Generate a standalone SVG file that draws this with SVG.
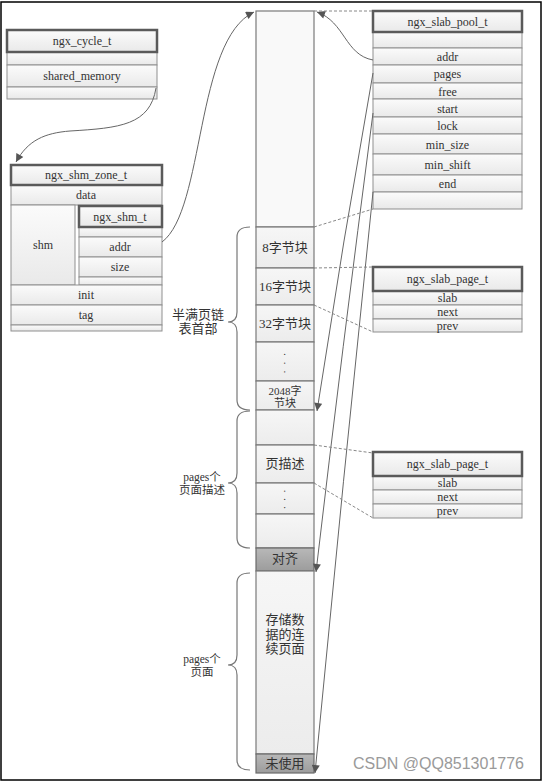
<svg xmlns="http://www.w3.org/2000/svg" width="543" height="783" viewBox="0 0 543 783">
<defs>
<linearGradient id="g" x1="0" y1="0" x2="0" y2="1"><stop offset="0" stop-color="#fbfbfb"/><stop offset="1" stop-color="#e9e9e9"/></linearGradient>
<linearGradient id="gd" x1="0" y1="0" x2="0" y2="1"><stop offset="0" stop-color="#b8b8b8"/><stop offset="1" stop-color="#9c9c9c"/></linearGradient>
<linearGradient id="gc" x1="0" y1="0" x2="0" y2="1"><stop offset="0" stop-color="#f6f6f6"/><stop offset="1" stop-color="#ececec"/></linearGradient>
<marker id="ar" viewBox="0 0 10 10" refX="10" refY="5" markerWidth="9" markerHeight="8" markerUnits="userSpaceOnUse" orient="auto"><path d="M0,0 L10,5 L0,10 z" fill="#555"/></marker>
<style>
.row{fill:url(#g);stroke:#8f8f8f;stroke-width:1}
.hdr{fill:url(#g);stroke:#5a5a5a;stroke-width:2.5}
.col{fill:url(#gc);stroke:#7a7a7a;stroke-width:1.2}
.dk{fill:url(#gd);stroke:#6a6a6a;stroke-width:1.2}
.t{font-family:"Liberation Serif",serif;font-size:12px;fill:#333;text-anchor:middle}
.c{font-family:"Liberation Serif","Noto Sans CJK SC",serif;font-size:13px;fill:#333;text-anchor:middle}
.s{font-family:"Liberation Serif","Noto Sans CJK SC",serif;font-size:11.5px;fill:#333;text-anchor:middle}
.d{font-family:"Liberation Serif",serif;font-size:11px;fill:#333;text-anchor:middle;letter-spacing:6px}
.dash{stroke:#888;stroke-width:1;stroke-dasharray:3,2;fill:none}
.conn{stroke:#666;stroke-width:1;fill:none}
.brace{stroke:#777;stroke-width:1.2;fill:none}
</style>
</defs>
<rect x="0" y="0" width="543" height="783" fill="#fff"/>
<rect x="1" y="2" width="540" height="778" fill="#fff" stroke="#000" stroke-width="1.5"/>

<g id="ngx_cycle_t">
<rect class="row" x="7" y="52" width="150" height="13"/>
<rect class="row" x="7" y="65" width="150" height="22"/>
<rect class="row" x="7" y="87" width="150" height="12"/>
<rect class="hdr" x="7" y="30" width="150" height="22"/>
<text class="t" x="82" y="45">ngx_cycle_t</text>
<text class="t" x="82" y="80">shared_memory</text>
</g>

<g id="ngx_shm_zone_t">
<rect class="row" x="11" y="185" width="151" height="20"/>
<rect class="row" x="11" y="205" width="64" height="80"/>
<rect class="row" x="79" y="227" width="83" height="10"/>
<rect class="row" x="79" y="237" width="83" height="20"/>
<rect class="row" x="79" y="257" width="83" height="20"/>
<rect class="row" x="79" y="277" width="83" height="8"/>
<rect class="row" x="11" y="285" width="151" height="20"/>
<rect class="row" x="11" y="305" width="151" height="20"/>
<rect class="row" x="11" y="325" width="151" height="6"/>
<rect class="hdr" x="11" y="165" width="151" height="20"/>
<rect class="hdr" x="79" y="206" width="83" height="21"/>
<text class="t" x="86" y="179">ngx_shm_zone_t</text>
<text class="t" x="86" y="199">data</text>
<text class="t" x="43" y="249">shm</text>
<text class="t" x="120" y="220.500">ngx_shm_t</text>
<text class="t" x="120" y="251">addr</text>
<text class="t" x="120" y="271">size</text>
<text class="t" x="86" y="299">init</text>
<text class="t" x="86" y="319">tag</text>
</g>

<g id="memory">
<rect class="col" x="256" y="11" width="58" height="216" style="fill:#f9f9f9"/>
<rect class="col" x="256" y="227" width="58" height="41"/>
<rect class="col" x="256" y="268" width="58" height="37"/>
<rect class="col" x="256" y="305" width="58" height="37"/>
<rect class="col" x="256" y="342" width="58" height="39"/>
<rect class="col" x="256" y="381" width="58" height="29"/>
<rect class="col" x="256" y="410" width="58" height="35"/>
<rect class="col" x="256" y="445" width="58" height="38"/>
<rect class="col" x="256" y="483" width="58" height="31"/>
<rect class="col" x="256" y="514" width="58" height="34"/>
<rect class="dk" x="256" y="548" width="58" height="23"/>
<rect class="col" x="256" y="571" width="58" height="183"/>
<rect class="dk" x="256" y="754" width="58" height="19"/>
<text class="c" x="285" y="252">8字节块</text>
<text class="c" x="285" y="291">16字节块</text>
<text class="c" x="285" y="328">32字节块</text>
<text class="d" x="0" y="0" transform="translate(283.500,366) rotate(90)">...</text>
<text class="c" x="285" y="394.500" style="font-size:11px">2048字<tspan x="285" dy="12.500">节块</tspan></text>
<text class="c" x="285" y="468">页描述</text>
<text class="d" x="0" y="0" transform="translate(283.500,502) rotate(90)" style="letter-spacing:5.500px">...</text>
<text class="c" x="285" y="563">对齐</text>
<text class="c" x="285" y="624">存储数<tspan x="285" dy="14.500">据的连</tspan><tspan x="285" dy="14.500">续页面</tspan></text>
<text class="c" x="285" y="768">未使用</text>
</g>

<g id="braces">
<path class="brace" d="M250,227 Q237,227 237,237 L237,312 Q237,322 228,322 Q237,322 237,332 L237,400 Q237,410 250,410"/>
<path class="brace" d="M250,411 Q237,411 237,421 L237,473 Q237,483 228,483 Q237,483 237,493 L237,538 Q237,548 250,548"/>
<path class="brace" d="M250,573 Q237,573 237,583 L237,655 Q237,665 228,665 Q237,665 237,675 L237,760 Q237,770 250,770"/>
<text class="c" x="198" y="319">半满页链<tspan x="198" dy="14">表首部</tspan></text>
<text class="s" x="202" y="481">pages个<tspan x="202" dy="13">页面描述</tspan></text>
<text class="s" x="202" y="663">pages个<tspan x="202" dy="13">页面</tspan></text>
</g>

<g id="ngx_slab_pool_t">
<rect class="row" x="373" y="32" width="149" height="16"/>
<rect class="row" x="373" y="48" width="149" height="17"/>
<rect class="row" x="373" y="65" width="149" height="18"/>
<rect class="row" x="373" y="83" width="149" height="16"/>
<rect class="row" x="373" y="99" width="149" height="18"/>
<rect class="row" x="373" y="117" width="149" height="17"/>
<rect class="row" x="373" y="134" width="149" height="20"/>
<rect class="row" x="373" y="154" width="149" height="21"/>
<rect class="row" x="373" y="175" width="149" height="17"/>
<rect class="row" x="373" y="192" width="149" height="17"/>
<rect class="hdr" x="373" y="11" width="149" height="21"/>
<text class="t" x="447.500" y="25.500">ngx_slab_pool_t</text>
<text class="t" x="447.500" y="60.500">addr</text>
<text class="t" x="447.500" y="78">pages</text>
<text class="t" x="447.500" y="95.500">free</text>
<text class="t" x="447.500" y="112.500">start</text>
<text class="t" x="447.500" y="129.500">lock</text>
<text class="t" x="447.500" y="148.500">min_size</text>
<text class="t" x="447.500" y="168.500">min_shift</text>
<text class="t" x="447.500" y="187.500">end</text>
</g>

<g id="ngx_slab_page_t_1">
<rect class="row" x="373" y="291" width="149" height="14"/>
<rect class="row" x="373" y="305" width="149" height="14"/>
<rect class="row" x="373" y="319" width="149" height="13"/>
<rect class="hdr" x="373" y="267" width="149" height="24"/>
<text class="t" x="447.500" y="283">ngx_slab_page_t</text>
<text class="t" x="447.500" y="302">slab</text>
<text class="t" x="447.500" y="316">next</text>
<text class="t" x="447.500" y="329.500">prev</text>
</g>

<g id="ngx_slab_page_t_2">
<rect class="row" x="373" y="476" width="149" height="14"/>
<rect class="row" x="373" y="490" width="149" height="14"/>
<rect class="row" x="373" y="504" width="149" height="14"/>
<rect class="hdr" x="373" y="452" width="149" height="24"/>
<text class="t" x="447.500" y="468">ngx_slab_page_t</text>
<text class="t" x="447.500" y="487">slab</text>
<text class="t" x="447.500" y="501">next</text>
<text class="t" x="447.500" y="515">prev</text>
</g>

<g id="connectors">
<path class="conn" d="M156,88 C150,125 120,128 70,131 C45,133 28,140 16,162" marker-end="url(#ar)"/>
<path class="conn" d="M162,242 C205,210 195,40 254,12" marker-end="url(#ar)"/>
<path class="conn" d="M373,60 C345,55 345,22 317,12" marker-end="url(#ar)"/>
<path class="conn" d="M373,73 Q343,240 317,411" marker-end="url(#ar)"/>
<path class="conn" d="M373,113 Q342,350 316,572" marker-end="url(#ar)"/>
<path class="conn" d="M373,192 Q343,480 315,773" marker-end="url(#ar)"/>
<path class="dash" d="M314,11 L373,11"/>
<path class="dash" d="M314,227 L373,209"/>
<path class="dash" d="M314,268 L373,267"/>
<path class="dash" d="M314,305 L373,332"/>
<path class="dash" d="M314,445 L373,453"/>
<path class="dash" d="M314,483 L373,518"/>
</g>

<text x="353" y="769" style="font-family:'Liberation Sans',sans-serif;font-size:16px;fill:#9a9a9a">CSDN @QQ851301776</text>
</svg>
